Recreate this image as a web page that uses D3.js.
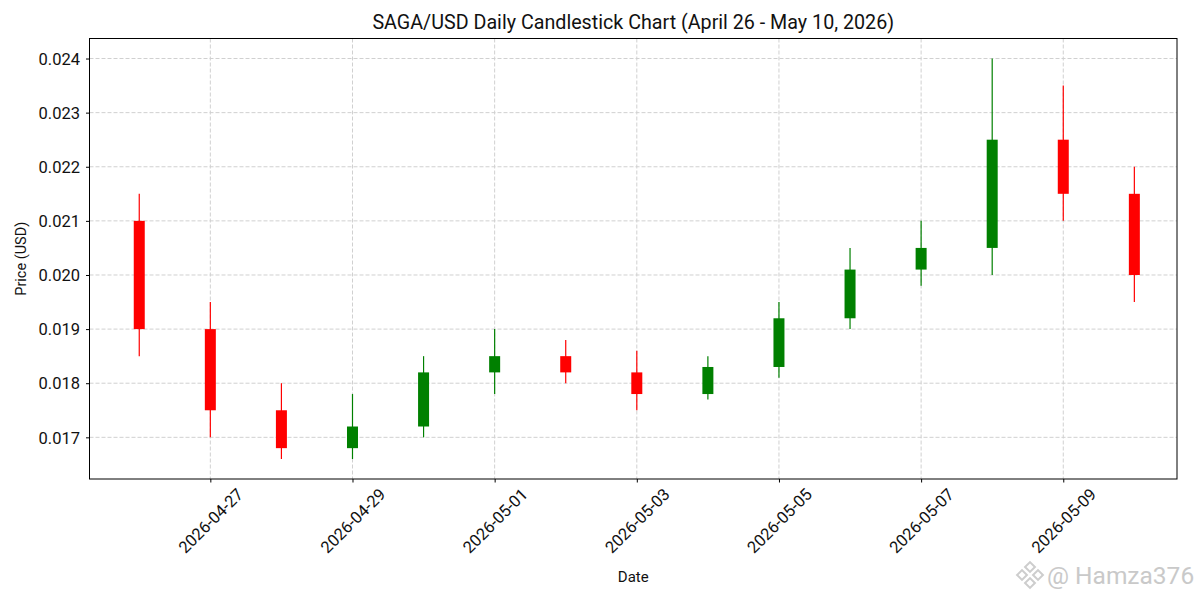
<!DOCTYPE html>
<html>
<head>
<meta charset="utf-8">
<script src="https://cdn.jsdelivr.net/npm/d3@7"></script>
<style>
  html, body { margin: 0; padding: 0; background: #fff; }
  svg { display: block; font-family: Roboto, "Open Sans", sans-serif; }
</style>
</head>
<body>
<svg id="chart" width="1200" height="600"></svg>
<script>
// ---- Data ----
const dates  = ["2026-04-26","2026-04-27","2026-04-28","2026-04-29","2026-04-30",
                "2026-05-01","2026-05-02","2026-05-03","2026-05-04","2026-05-05",
                "2026-05-06","2026-05-07","2026-05-08","2026-05-09","2026-05-10"];
const opens  = [0.0210,0.0190,0.0175,0.0168,0.0172,0.0182,0.0185,0.0182,0.0178,0.0183,0.0192,0.0201,0.0205,0.0225,0.0215];
const highs  = [0.0215,0.0195,0.0180,0.0178,0.0185,0.0190,0.0188,0.0186,0.0185,0.0195,0.0205,0.0210,0.0240,0.0235,0.0220];
const lows   = [0.0185,0.0170,0.0166,0.0166,0.0170,0.0178,0.0180,0.0175,0.0177,0.0181,0.0190,0.0198,0.0200,0.0210,0.0195];
const closes = [0.0190,0.0175,0.0168,0.0172,0.0182,0.0185,0.0182,0.0178,0.0183,0.0192,0.0201,0.0205,0.0225,0.0215,0.0200];
const xTickDates = ["2026-04-27","2026-04-29","2026-05-01","2026-05-03","2026-05-05","2026-05-07","2026-05-09"];
const yTickValues = [0.017,0.018,0.019,0.020,0.021,0.022,0.023,0.024];
const titleText = "SAGA/USD Daily Candlestick Chart (April 26 - May 10, 2026)";
const xLabel = "Date";
const yLabel = "Price (USD)";
const watermark = "@ Hamza376";

// ---- Layout ----
const W = 1200, H = 600;
const m = { left: 89.5, right: 1177, top: 38.5, bottom: 479 };
const DAY = 86400000;
const parse = d3.utcParse("%Y-%m-%d");
const fmt = d3.utcFormat("%Y-%m-%d");
const dts = dates.map(parse);

const x = d3.scaleUtc()
  .domain([new Date(+dts[0] - 0.70 * DAY), new Date(+dts[dts.length - 1] + 0.60 * DAY)])
  .range([m.left, m.right]);
const yMin = d3.min(lows), yMax = d3.max(highs), pad = (yMax - yMin) * 0.05;
const y = d3.scaleLinear().domain([yMin - pad, yMax + pad]).range([m.bottom, m.top]);

const svg = d3.select("#chart");
const UP = "#008000", DOWN = "#ff0000";
const tickFont = 16.5;

// grid
const grid = svg.append("g");
grid.selectAll("line.gy").data(yTickValues).join("line")
  .attr("x1", m.left).attr("x2", m.right)
  .attr("y1", d => y(d)).attr("y2", d => y(d))
  .attr("stroke", "#d0d0d0").attr("stroke-width", 1).attr("stroke-dasharray", "4,2");
grid.selectAll("line.gx").data(xTickDates.map(parse)).join("line")
  .attr("y1", m.top).attr("y2", m.bottom)
  .attr("x1", d => x(d)).attr("x2", d => x(d))
  .attr("stroke", "#d0d0d0").attr("stroke-width", 1).attr("stroke-dasharray", "4,2");

// candles
const bodyW = 11;
const cg = svg.append("g");
const idx = d3.range(dates.length);
cg.selectAll("line.wick").data(idx).join("line")
  .attr("x1", i => x(dts[i])).attr("x2", i => x(dts[i]))
  .attr("y1", i => y(highs[i])).attr("y2", i => y(lows[i]))
  .attr("stroke", i => closes[i] >= opens[i] ? UP : DOWN).attr("stroke-width", 1.2);
cg.selectAll("rect.body").data(idx).join("rect")
  .attr("x", i => x(dts[i]) - bodyW / 2)
  .attr("width", bodyW)
  .attr("y", i => y(Math.max(opens[i], closes[i])))
  .attr("height", i => Math.abs(y(opens[i]) - y(closes[i])))
  .attr("fill", i => closes[i] >= opens[i] ? UP : DOWN);

// axes
const yAxis = svg.append("g").attr("transform", `translate(${m.left},0)`)
  .call(d3.axisLeft(y).tickValues(yTickValues).tickFormat(d3.format(".3f")).tickSize(3.5).tickPadding(6));
const xAxis = svg.append("g").attr("transform", `translate(0,${m.bottom})`)
  .call(d3.axisBottom(x).tickValues(xTickDates.map(parse)).tickFormat(fmt).tickSize(3.5).tickPadding(6));
[yAxis, xAxis].forEach(a => {
  a.select(".domain").remove();
  a.selectAll(".tick line").attr("stroke", "#000").attr("stroke-width", 1);
  a.selectAll("text").attr("font-size", tickFont).attr("fill", "#111").attr("font-family", "Roboto, sans-serif");
});
yAxis.selectAll("text").attr("dy", "0.35em");
xAxis.selectAll(".tick text").each(function () {
  const t = d3.select(this);
  const L = this.getComputedTextLength();
  const h = tickFont * 0.9;
  const cy = 7 + (L + h) * Math.SQRT1_2 / 2;
  t.attr("text-anchor", "middle").attr("dy", "0.35em").attr("y", 0)
   .attr("transform", `translate(0,${cy}) rotate(-45)`);
});

// frame
svg.append("rect").attr("x", m.left).attr("y", m.top)
  .attr("width", m.right - m.left).attr("height", m.bottom - m.top)
  .attr("fill", "none").attr("stroke", "#000").attr("stroke-width", 1);

// title and labels
svg.append("text").attr("x", (m.left + m.right) / 2).attr("y", 29)
  .attr("text-anchor", "middle").attr("font-size", 19.7).attr("fill", "#111").text(titleText);
svg.append("text").attr("x", (m.left + m.right) / 2).attr("y", 582)
  .attr("text-anchor", "middle").attr("font-size", 15).attr("fill", "#111").text(xLabel);
svg.append("text").attr("transform", `translate(26,${(m.top + m.bottom) / 2}) rotate(-90)`)
  .attr("text-anchor", "middle").attr("font-size", 14.5).attr("fill", "#111").text(yLabel);

// watermark
const wm = svg.append("g").attr("opacity", 0.9);
const lg = wm.append("g").attr("transform", "translate(1030,575)")
  .attr("fill", "none").attr("stroke", "#c8c8c8").attr("stroke-width", 2);
[[0,-8],[-8,0],[8,0],[0,8]].forEach(([dx,dy]) => {
  lg.append("rect").attr("x", dx - 3.5).attr("y", dy - 3.5).attr("width", 7).attr("height", 7)
    .attr("transform", `rotate(45 ${dx} ${dy})`);
});
wm.append("text").attr("x", 1047).attr("y", 584).attr("font-size", 24.5)
  .attr("fill", "#c4c4c4").attr("font-family", "Roboto, sans-serif").text(watermark);
</script>
</body>
</html>
